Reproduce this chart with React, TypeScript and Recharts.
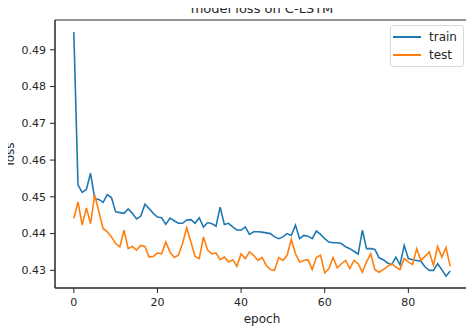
import { LineChart, Line, XAxis, YAxis, ReferenceArea } from "recharts";

const epochs = Array.from({ length: 91 }, (_, i) => i);

const train = [
  0.4948, 0.4532, 0.4512, 0.452, 0.4564, 0.4495, 0.4493, 0.4485, 0.4506, 0.4498,
  0.4459, 0.4457, 0.4455, 0.4467, 0.4455, 0.444, 0.4447, 0.448, 0.4468, 0.4455,
  0.4445, 0.4443, 0.4425, 0.4442, 0.4435, 0.4428, 0.4428, 0.4437, 0.4438, 0.4428,
  0.4443, 0.4418, 0.443, 0.4427, 0.442, 0.4472, 0.4425, 0.4428, 0.4418, 0.441,
  0.4409, 0.4418, 0.4398, 0.4405, 0.4405, 0.4404, 0.4402, 0.44, 0.4391, 0.4386,
  0.4391, 0.44, 0.4395, 0.4423, 0.4386, 0.4395, 0.4393, 0.4386, 0.4407, 0.4398,
  0.4386, 0.4377, 0.4375, 0.4375, 0.4373, 0.4364, 0.4359, 0.4352, 0.4344, 0.4409,
  0.4359, 0.4359, 0.4357, 0.4334, 0.4329, 0.432, 0.4315, 0.4336, 0.4315, 0.4368,
  0.4332, 0.4329, 0.4327, 0.4325, 0.4309, 0.43, 0.43, 0.4318, 0.4302, 0.4284,
  0.4298,
];

const test = [
  0.4441, 0.4486, 0.4423, 0.447, 0.4427, 0.4505, 0.4459, 0.4414, 0.4405, 0.4391,
  0.4373, 0.4364, 0.4409, 0.4359, 0.4365, 0.4355, 0.4368, 0.4365, 0.4336, 0.4338,
  0.4347, 0.4345, 0.4377, 0.435, 0.4335, 0.4341, 0.4373, 0.4416, 0.4377, 0.4338,
  0.4332, 0.4391, 0.4355, 0.4345, 0.4347, 0.4329, 0.4336, 0.4323, 0.4329, 0.4311,
  0.4345, 0.4332, 0.435, 0.4341, 0.4327, 0.4335, 0.4314, 0.4302, 0.43, 0.4335,
  0.4327, 0.4341, 0.4384, 0.4345, 0.4323, 0.4327, 0.4329, 0.4302, 0.4335, 0.4341,
  0.4293, 0.4305, 0.4335, 0.4307, 0.4318, 0.4327, 0.4305, 0.4327, 0.4318, 0.4295,
  0.4323, 0.4345, 0.4302, 0.4295, 0.4302, 0.4311, 0.4318, 0.4309, 0.4302, 0.4332,
  0.4323, 0.4316, 0.4359, 0.4327, 0.4338, 0.435, 0.4314, 0.4365, 0.4336, 0.4362,
  0.4311,
];

const xTicks = [0, 20, 40, 60, 80];
const yTicks = [0.43, 0.44, 0.45, 0.46, 0.47, 0.48, 0.49];

const data = epochs.map((e, i) => ({ epoch: e, train: train[i], test: test[i] }));

const font = "DejaVu Sans, sans-serif";
const ink = "#262626";

const series = [
  { key: "train", color: "#1f77b4" },
  { key: "test", color: "#ff7f0e" },
];

// the page keeps its 8px body margin, so everything below is placed 8px up/left
function LegendBox() {
  return (
    <div
      style={{
        position: "absolute",
        top: 17,
        left: 382,
        border: "1px solid #d9d9d9",
        borderRadius: 3,
        background: "rgba(255,255,255,0.8)",
        padding: "2px 6px 2px 2px",
        fontFamily: font,
        fontSize: 12,
        color: ink,
        lineHeight: "18px",
      }}
    >
      {series.map((it) => (
        <div key={it.key} style={{ display: "flex", alignItems: "center" }}>
          <span
            style={{
              display: "inline-block",
              width: 28,
              height: 2,
              background: it.color,
              marginRight: 8,
            }}
          />
          {it.key}
        </div>
      ))}
    </div>
  );
}

export default function App() {
  return (
    <div style={{ position: "relative", width: 466, height: 325, background: "#fff" }}>
      <LineChart
        width={466}
        height={325}
        data={data}
        margin={{ top: 12, right: 5, bottom: 0, left: 0 }}
      >
        <XAxis
          dataKey="epoch"
          type="number"
          domain={[-4.5, 94.5]}
          ticks={xTicks}
          height={45}
          tickSize={5}
          tickMargin={5}
          stroke={ink}
          tick={{ fill: ink, fontSize: 11, fontFamily: font }}
          allowDataOverflow
        />
        <YAxis
          type="number"
          domain={[0.4252, 0.4981]}
          ticks={yTicks}
          width={47}
          tickSize={5}
          tickMargin={4}
          stroke={ink}
          tick={{ fill: ink, fontSize: 11, fontFamily: font }}
          tickFormatter={(v: number) => v.toFixed(2)}
          allowDataOverflow
        />
        <ReferenceArea
          x1={-4.5}
          x2={94.5}
          y1={0.4252}
          y2={0.4981}
          fill="none"
          stroke={ink}
          strokeWidth={1}
          ifOverflow="extendDomain"
        />
        {series.map((s) => (
          <Line
            key={s.key}
            type="linear"
            dataKey={s.key}
            name={s.key}
            stroke={s.color}
            strokeWidth={1.6}
            dot={false}
            isAnimationActive={false}
          />
        ))}
      </LineChart>
      <LegendBox />
      <div
        style={{
          position: "absolute",
          top: -7,
          left: 47,
          width: 414,
          textAlign: "center",
          fontFamily: font,
          fontSize: 13,
          color: ink,
        }}
      >
        model loss on C-LSTM
      </div>
      <div
        style={{
          position: "absolute",
          top: 304,
          left: 47,
          width: 414,
          textAlign: "center",
          fontFamily: font,
          fontSize: 12,
          color: ink,
        }}
      >
        epoch
      </div>
      <div
        style={{
          position: "absolute",
          top: 146,
          left: 2,
          transform: "translate(-50%, -50%) rotate(-90deg)",
          fontFamily: font,
          fontSize: 12,
          color: ink,
        }}
      >
        loss
      </div>
    </div>
  );
}
